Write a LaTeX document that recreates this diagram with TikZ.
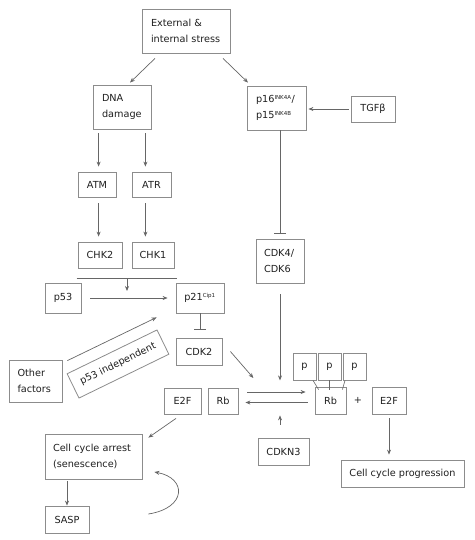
\documentclass[tikz,border=0pt]{standalone}
\usepackage{fontspec}
\setmainfont{DejaVu Sans}
\usetikzlibrary{arrows.meta}
\definecolor{boxgray}{gray}{0.55}
\definecolor{linegray}{gray}{0.4}
\definecolor{textgray}{gray}{0.12}
\newcommand{\supsc}[1]{\textsuperscript{\fontsize{5.5}{6}\selectfont #1}}
\tikzset{
  box/.style={rectangle, draw=boxgray, fill=white, line width=0.8pt,
              inner sep=0pt, text=textgray, font=\fontsize{9.7}{16}\selectfont},
  arrow/.style={-{Stealth[length=5pt,width=4pt]}, draw=linegray, line width=0.7pt},
  inhibit/.style={-{Bar[width=12pt]}, draw=linegray, line width=0.7pt},
  link/.style={draw=linegray, line width=0.6pt},
}

\begin{document}
\begin{tikzpicture}[x=1pt, y=-1pt]

  \useasboundingbox (0,0) rectangle (474,540);

  % =====================================================
  % STRESS AND DNA DAMAGE
  % =====================================================

  \node[box, minimum width=88pt, minimum height=44pt, text width=70pt, align=left]
    (stress) at (186,31) {External \&\\internal stress};

  \node[box, minimum width=58pt, minimum height=44pt, text width=40pt, align=left]
    (dna) at (122,107) {DNA\\damage};

  \node[box, minimum width=59pt, minimum height=44pt, text width=41pt, align=left]
    (p16) at (276.5,108) {p16\supsc{INK4A}/\\p15\supsc{INK4B}};

  \node[box, minimum width=44pt, minimum height=26pt]
    (tgf) at (373,109) {TGFβ};

  \node[box, minimum width=38pt, minimum height=25pt]
    (atm) at (97,184.5) {ATM};

  \node[box, minimum width=39pt, minimum height=25pt]
    (atr) at (151.5,184.5) {ATR};

  \node[box, minimum width=44pt, minimum height=26pt]
    (chk2) at (100,255) {CHK2};

  \node[box, minimum width=42pt, minimum height=26pt]
    (chk1) at (153,255) {CHK1};

  \node[box, minimum width=48pt, minimum height=44pt, text width=32pt, align=left]
    (cdk4) at (280,261) {CDK4/\\CDK6};


  % =====================================================
  % P53 / P21
  % =====================================================

  \node[box, minimum width=36pt, minimum height=30pt]
    (p53) at (63,298) {p53};

  \node[box, minimum width=48pt, minimum height=30pt]
    (p21) at (200,298) {p21\supsc{Cip1}};

  \node[box, minimum width=46pt, minimum height=27pt]
    (cdk2) at (199,351.5) {CDK2};

  \node[box, minimum width=53pt, minimum height=42pt, text width=36pt, align=left]
    (other) at (35.5,381) {Other\\factors};

  \node[box, rotate=26, minimum width=100pt, minimum height=27pt]
    (indep) at (118,364) {p53 independent};


  % =====================================================
  % RB / E2F
  % =====================================================

  \node[box, minimum width=37pt, minimum height=26pt]
    (e2fl) at (182.5,401) {E2F};

  \node[box, minimum width=30pt, minimum height=26pt]
    (rbl) at (223,401) {Rb};

  \node[box, minimum width=23pt, minimum height=27pt]
    (p1) at (304.5,366.5) {p};

  \node[box, minimum width=23pt, minimum height=27pt]
    (p2) at (329.5,366.5) {p};

  \node[box, minimum width=23pt, minimum height=27pt]
    (p3) at (354.5,366.5) {p};

  \node[box, minimum width=31pt, minimum height=27pt]
    (rbr) at (330.5,400.5) {Rb};

  \node[text=textgray, font=\fontsize{9.7}{12}\selectfont]
    (plus) at (358,400) {+};

  \node[box, minimum width=34pt, minimum height=27pt]
    (e2fr) at (389,400.5) {E2F};

  \node[box, minimum width=51pt, minimum height=27pt]
    (cdkn3) at (283.5,451.5) {CDKN3};

  \node[box, minimum width=97pt, minimum height=45pt, text width=81pt, align=left]
    (cca) at (93.5,456.5) {Cell cycle arrest\\(senescence)};

  \node[box, minimum width=44pt, minimum height=27pt]
    (sasp) at (67,519.5) {SASP};

  \node[box, minimum width=123pt, minimum height=27pt]
    (ccp) at (402.5,473.5) {Cell cycle progression};


  % =====================================================
  % UPPER CONNECTORS
  % =====================================================

  \coordinate (colL) at ([xshift=6pt]dna.south west);
  \coordinate (colR) at ([xshift=-6pt]dna.south east);

  \draw[arrow]
    ([xshift=-31pt,yshift=-5pt]stress.south) -- ([xshift=8pt,yshift=2pt]dna.north);

  \draw[arrow]
    ([xshift=37pt,yshift=-5pt]stress.south) -- ([xshift=-28.5pt,yshift=3pt]p16.north);

  \draw[arrow, shorten <=2pt, shorten >=2pt]
    (tgf.west) -- (tgf.west -| p16.east);

  \draw[arrow, shorten <=4pt, shorten >=5pt]
    (colL) -- (colL |- atm.north);

  \draw[arrow, shorten <=4pt, shorten >=5pt]
    (colR) -- (colR |- atr.north);

  \draw[arrow, shorten <=6pt, shorten >=5pt]
    (colL |- atm.south) -- (colL |- chk2.north);

  \draw[arrow, shorten <=6pt, shorten >=5pt]
    (colR |- atr.south) -- (colR |- chk1.north);

  \draw[inhibit, shorten >=5pt]
    (cdk4.north |- p16.south) -- (cdk4.north);


  % =====================================================
  % CHK TO P21
  % =====================================================

  \coordinate (barL) at ([xshift=-1pt,yshift=-10pt]chk2.south west);
  \coordinate (barR) at ([xshift=3pt,yshift=-10pt]chk1.south east);

  \draw[link]
    (barL) -- coordinate[midway] (barM) (barR);

  \draw[arrow, shorten >=7pt]
    (barM) -- (barM |- p53.east);

  \draw[arrow, shorten <=9pt, shorten >=8pt]
    (p53.east) -- (p21.west);

  \draw[inhibit, shorten >=8pt]
    (p21.south) -- (p21.south |- cdk2.north);

  \draw[arrow]
    ([xshift=5pt,yshift=-1pt]other.north east)
    -- ([xshift=-19pt,yshift=-4pt]p21.south west);


  % =====================================================
  % RB PHOSPHORYLATION
  % =====================================================

  \draw[arrow, shorten <=11pt]
    (cdk4.south) -- (cdk4.south |- p1.south);

  \draw[arrow]
    ([xshift=8pt]cdk2.east) -- ([xshift=31pt,yshift=-26.5pt]cdk2.east);

  \draw[arrow, shorten <=9pt, shorten >=9pt]
    ([yshift=9pt]rbl.east) -- ([yshift=9pt]rbl.east -| rbr.west);

  \draw[arrow, shorten <=7pt, shorten >=7pt]
    ([yshift=-2pt]rbr.west) -- ([yshift=-2pt]rbr.west -| rbl.east);

  \draw[arrow, shorten <=13pt, shorten >=1pt]
    (cdk4.south |- cdkn3.north) -- (cdk4.south |- rbr.south);

  \draw[link]
    ([xshift=8.5pt]p1.south) -- ([xshift=4pt,yshift=-3pt]rbr.north west);

  \draw[link]
    (p2.south) -- ([yshift=-3pt]p2.south |- rbr.north);

  \draw[link]
    ([xshift=-9.5pt]p3.south) -- ([xshift=-4pt,yshift=-3pt]rbr.north east);


  % =====================================================
  % OUTCOMES
  % =====================================================

  \draw[arrow, shorten <=4pt, shorten >=5pt]
    (e2fr.south) -- (e2fr.south |- ccp.north);

  \draw[arrow]
    ([xshift=-6.5pt,yshift=-4pt]e2fl.south) -- ([xshift=6pt,yshift=-4pt]cca.north east);

  \draw[arrow, shorten <=2pt]
    (sasp.north |- cca.south) -- (sasp.north);

  \coordinate (loopS) at ([xshift=59pt,yshift=5.5pt]sasp.east);
  \coordinate (loopE) at ([xshift=12pt,yshift=-15.5pt]cca.east);

  \draw[arrow]
    (loopS) .. controls (187,508) and (187,478) .. (loopE);

\end{tikzpicture}
\end{document}
